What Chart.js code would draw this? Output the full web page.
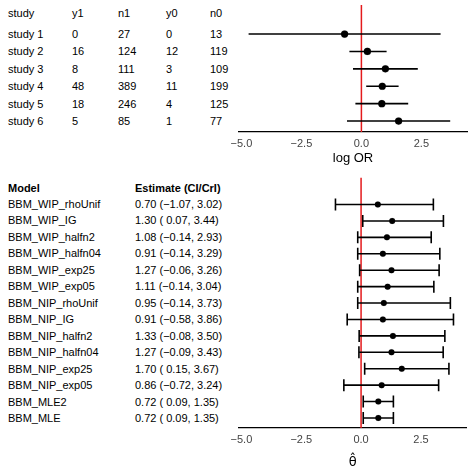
<!DOCTYPE html>
<html><head><meta charset="utf-8">
<script src="https://cdn.jsdelivr.net/npm/chart.js@4"></script>
<style>
body{margin:0;background:#fff;font-family:"Liberation Sans",Arial,sans-serif;font-size:11px;color:#000}
.c{position:absolute}
.t{position:absolute;white-space:pre;line-height:12px}
</style></head><body>
<div class="c" style="left:229px;top:0;width:245px;height:170px"><canvas id="top"></canvas></div>
<div class="c" style="left:229px;top:170px;width:245px;height:304px"><canvas id="bot"></canvas></div>
<div id="txt"></div>
<script>
const studies = ['study 1','study 2','study 3','study 4','study 5','study 6'];
const y1 = [0,16,8,48,18,5];
const n1 = [27,124,111,389,246,85];
const y0 = [0,12,3,11,4,1];
const n0 = [13,119,109,199,125,77];
const studyEst = [-0.7,0.25,1.0,0.87,0.85,1.55];
const studyLo = [-4.7,-0.5,-0.35,0.2,-0.25,-0.6];
const studyHi = [3.3,1.05,2.35,1.55,1.95,3.7];

const models = ['BBM_WIP_rhoUnif','BBM_WIP_IG','BBM_WIP_halfn2','BBM_WIP_halfn04','BBM_WIP_exp25','BBM_WIP_exp05',
  'BBM_NIP_rhoUnif','BBM_NIP_IG','BBM_NIP_halfn2','BBM_NIP_halfn04','BBM_NIP_exp25','BBM_NIP_exp05','BBM_MLE2','BBM_MLE'];
const modEst = [0.70,1.30,1.08,0.91,1.27,1.11,0.95,0.91,1.33,1.27,1.70,0.86,0.72,0.72];
const modLo = [-1.07,0.07,-0.14,-0.14,-0.06,-0.14,-0.14,-0.58,-0.08,-0.09,0.15,-0.72,0.09,0.09];
const modHi = [3.02,3.44,2.93,3.29,3.26,3.04,3.73,3.86,3.50,3.43,3.67,3.24,1.35,1.35];
const xTicks = [-5,-2.5,0,2.5];

// table text
let h = '';
const cell = (x,y,s,b) => h += `<div class="t" style="left:${x}px;top:${y-6}px;${b?'font-weight:bold':''}">${s}</div>`;
const tcols = [8,72,118,166,210];
['study','y1','n1','y0','n0'].forEach((s,i)=>cell(tcols[i],13,s));
studies.forEach((s,i)=>{
  const y = 34 + i*17.4;
  [s,y1[i],n1[i],y0[i],n0[i]].forEach((v,j)=>cell(tcols[j],y,v));
});
cell(8,188,'Model',true); cell(135,188,'Estimate (CI/CrI)',true);
const f = v => (v<0?'\u2212':' ')+Math.abs(v).toFixed(2);
models.forEach((m,i)=>{
  const y = 204 + i*16.46;
  cell(8,y,m);
  cell(135,y,modEst[i].toFixed(2)+' ('+f(modLo[i])+', '+modHi[i].toFixed(2)+')');
});
document.getElementById('txt').innerHTML = h;

function forest(id, est, lo, hi, ymin, ymax, title, titleFont, axisH, padTop, caps) {
  const ds = [];
  est.forEach((e,i)=>{
    ds.push({type:'line', data:[{x:lo[i],y:i+1},{x:hi[i],y:i+1}], borderColor:'#000', borderWidth:1.6,
      pointStyle:'line', pointRotation:90, pointRadius:caps?6:0, pointBorderColor:'#000', pointBorderWidth:1.6});
  });
  ds.push({type:'scatter', data:est.map((e,i)=>({x:e,y:i+1})), backgroundColor:'#000', pointRadius:caps?3:3.6});
  ds.push({type:'line', data:[{x:0,y:ymin},{x:0,y:ymax}], borderColor:'#e41a1c', borderWidth:1.5, pointRadius:0});
  new Chart(document.getElementById(id), {
    type:'scatter',
    data:{datasets:ds},
    options:{
      responsive:true, maintainAspectRatio:false, animation:false,
      layout:{padding:{left:10,right:7,top:padTop,bottom:0}},
      plugins:{legend:{display:false}, tooltip:{enabled:false}},
      scales:{
        x:{type:'linear', min:-5.1, max:4.4,
          afterBuildTicks: a => { a.ticks = xTicks.map(v=>({value:v})); },
          afterFit: a => { a.height = axisH; },
          grid:{display:false, drawTicks:true, tickLength:4, tickColor:'#333'},
          border:{display:true, color:'#000', width:1.2},
          ticks:{color:'#444', font:{size:11, family:'Liberation Sans'}, padding:1,
            callback: v => (v<0?'\u2212':'')+Math.abs(v).toFixed(1)},
          title:{display:true, text:title, color:'#000', font:{size:13, family:titleFont}, padding:{top:0}}},
        y:{type:'linear', min:ymin, max:ymax, reverse:true, display:false}
      }
    }
  });
}
forest('top', studyEst, studyLo, studyHi, -0.67, 6.63, 'log OR', 'Liberation Sans', 38, 5, false);
forest('bot', modEst, modLo, modHi, -0.64, 14.61, '\u03B8\u0302', 'DejaVu Sans', 46, 7, true);
</script>
</body></html>
